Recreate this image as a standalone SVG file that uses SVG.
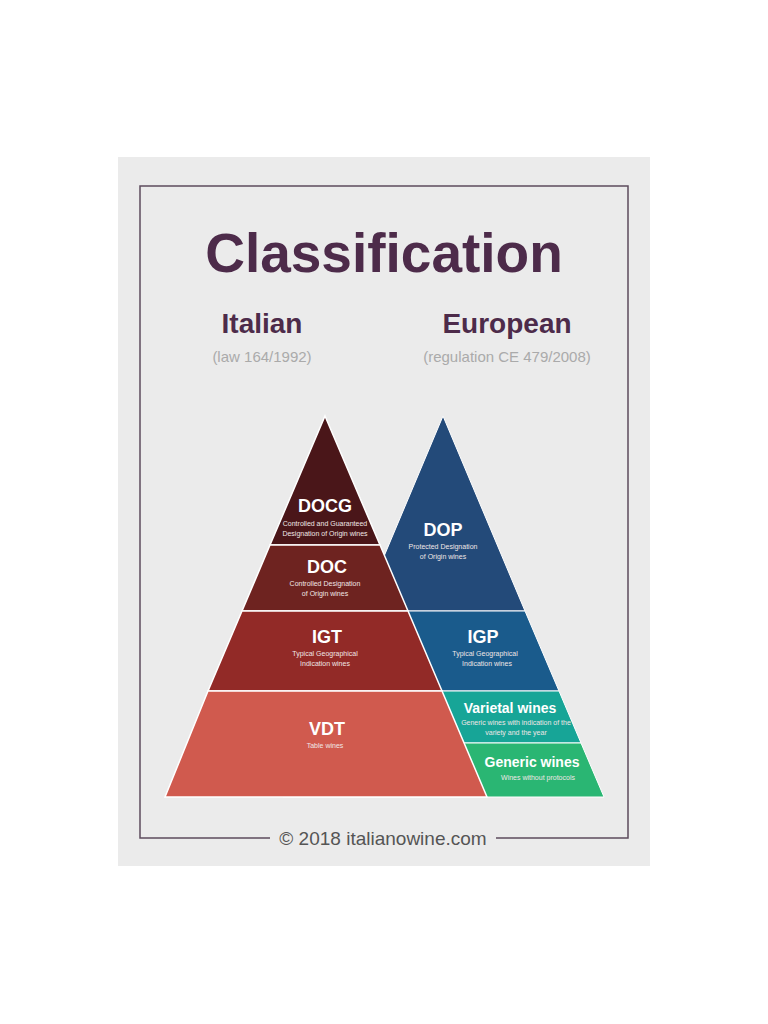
<svg xmlns="http://www.w3.org/2000/svg" width="768" height="1024" viewBox="0 0 768 1024">
<style>
.h{font-family:"Liberation Sans",Arial,sans-serif;font-weight:bold;fill:#fff;text-anchor:middle}
.s{font-family:"Liberation Sans",Arial,sans-serif;fill:#f0e6e6;font-size:7px;text-anchor:middle}
.it polygon{stroke:#fff;stroke-width:1.5}
.eu polygon{stroke:#fff;stroke-width:1}
</style>
<rect width="768" height="1024" fill="#fff"/>
<rect x="118" y="157" width="532" height="709" fill="#ebebeb"/>
<g fill="none" stroke="#5e4c5e" stroke-width="1.5">
<polyline points="270,838 140,838 140,186 628,186 628,838 496,838"/>
</g>
<text x="384" y="272" font-family="Liberation Sans,Arial,sans-serif" font-weight="bold" font-size="55" fill="#4d2b4a" text-anchor="middle">Classification</text>
<text x="262" y="333" font-family="Liberation Sans,Arial,sans-serif" font-weight="bold" font-size="28" fill="#4d2b4a" text-anchor="middle">Italian</text>
<text x="507" y="333" font-family="Liberation Sans,Arial,sans-serif" font-weight="bold" font-size="28" fill="#4d2b4a" text-anchor="middle">European</text>
<text x="262" y="362" font-family="Liberation Sans,Arial,sans-serif" font-size="15" fill="#aaa" text-anchor="middle">(law 164/1992)</text>
<text x="507" y="362" font-family="Liberation Sans,Arial,sans-serif" font-size="15" fill="#aaa" text-anchor="middle">(regulation CE 479/2008)</text>
<g class="eu">
<g id="dop"><polygon points="443,416 525,611 361,611" fill="#234a79"/></g>
<g id="igp"><polygon points="361,611 525,611 559,691 327,691" fill="#1a5b8c"/></g>
<g id="varietal"><polygon points="327,691 559,691 581,743 305,743" fill="#17a597"/></g>
<g id="generic"><polygon points="305,743 581,743 604,797 283,797" fill="#2ab673"/></g>
</g>
<g class="it">
<g id="docg"><polygon points="325,416 380,545 270,545" fill="#4a1619"/></g>
<g id="doc"><polygon points="270,545 380,545 408,611 242,611" fill="#6e2320"/></g>
<g id="igt"><polygon points="242,611 408,611 442,691 208,691" fill="#922a27"/></g>
<g id="vdt"><polygon points="208,691 442,691 487,797 165,797" fill="#d05a4e"/></g>
</g>
<text class="h" x="325" y="512" font-size="18">DOCG</text>
<text class="s" x="325" y="526">Controlled and Guaranteed</text>
<text class="s" x="325" y="536">Designation of Origin wines</text>
<text class="h" x="327" y="573" font-size="18">DOC</text>
<text class="s" x="325" y="586">Controlled Designation</text>
<text class="s" x="325" y="596">of Origin wines</text>
<text class="h" x="327" y="643" font-size="18">IGT</text>
<text class="s" x="325" y="656">Typical Geographical</text>
<text class="s" x="325" y="666">Indication wines</text>
<text class="h" x="327" y="735" font-size="18">VDT</text>
<text class="s" x="325" y="748">Table wines</text>
<text class="h" x="443" y="536" font-size="18">DOP</text>
<text class="s" x="443" y="549">Protected Designation</text>
<text class="s" x="443" y="559">of Origin wines</text>
<text class="h" x="483" y="643" font-size="18">IGP</text>
<text class="s" x="485" y="656">Typical Geographical</text>
<text class="s" x="487" y="666">Indication wines</text>
<text class="h" x="510" y="713" font-size="14">Varietal wines</text>
<text class="s" x="516" y="725">Generic wines with indication of the</text>
<text class="s" x="516" y="735">variety and the year</text>
<text class="h" x="532" y="767" font-size="14">Generic wines</text>
<text class="s" x="538" y="780">Wines without protocols</text>
<text x="383" y="845" font-family="Liberation Sans,Arial,sans-serif" font-size="19" fill="#555" text-anchor="middle">© 2018 italianowine.com</text>
</svg>
